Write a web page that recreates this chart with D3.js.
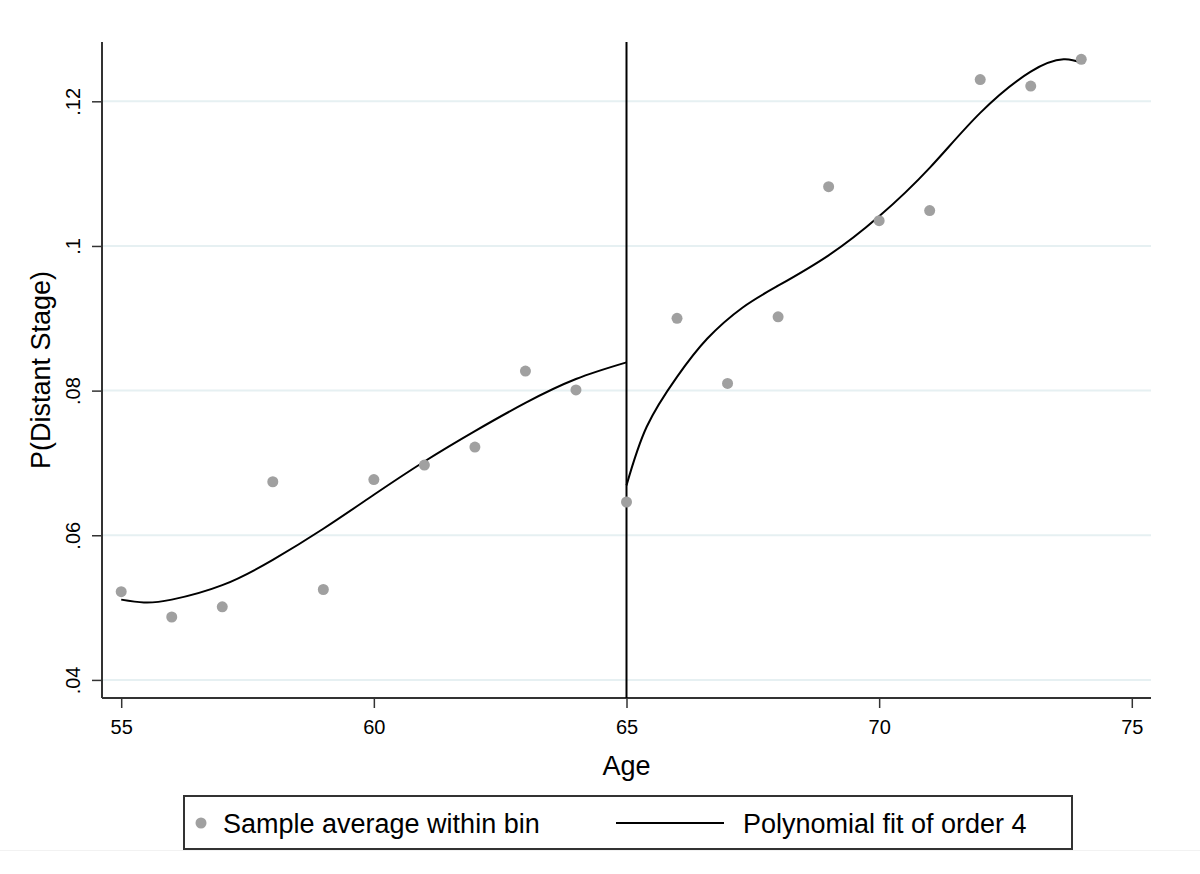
<!DOCTYPE html>
<html>
<head>
<meta charset="utf-8">
<script src="https://cdn.jsdelivr.net/npm/d3@7"></script>
<style>
  body { margin: 0; background: #fff; }
  text { font-family: "Liberation Sans", Arial, sans-serif; fill: #000; }
</style>
</head>
<body>
<div id="chart"></div>
<script>
// bin averages
var ages = [55, 56, 57, 58, 59, 60, 61, 62, 63, 64, 65, 66, 67, 68, 69, 70, 71, 72, 73, 74];
var binMeans = [0.0522, 0.0487, 0.0501, 0.0674, 0.0525, 0.0677, 0.0697, 0.0722, 0.0827, 0.0801,
                0.0646, 0.0900, 0.0810, 0.0902, 0.1082, 0.1035, 0.1049, 0.1230, 0.1221, 0.1258];

// fitted curve (left and right of the cutoff)
var fitLeftX = [55, 55.45, 56, 57, 58, 59, 60, 61, 62, 63, 64, 65];
var fitLeftY = [0.0511, 0.0507, 0.0511, 0.0531, 0.0566, 0.0609, 0.0656, 0.0702, 0.0744, 0.0783, 0.0816, 0.0839];
var fitRightX = [65, 65.4, 66, 66.6, 67.3, 68, 69, 70, 71, 72, 73, 73.65, 74];
var fitRightY = [0.0669, 0.0750, 0.0819, 0.0872, 0.0915, 0.0945, 0.0987, 0.1041, 0.1108, 0.1184, 0.1241, 0.1258, 0.1253];

var cutoff = 65;
var xTicks = [55, 60, 65, 70, 75];
var yTicks = [0.04, 0.06, 0.08, 0.1, 0.12];
var yTickLabels = [".04", ".06", ".08", ".1", ".12"];

var W = 1200, H = 874;
var svg = d3.select("#chart").append("svg")
    .attr("width", W)
    .attr("height", H);

// plot region
var plotLeft = 102, plotRight = 1151, plotTop = 42, plotBottom = 698;

var x = d3.scaleLinear().domain([54.62, 75.38]).range([plotLeft, plotRight]);
var y = d3.scaleLinear().domain([0.0375, 0.1282]).range([plotBottom, plotTop]);

// gridlines
svg.append("g")
    .selectAll("line")
    .data(yTicks)
    .enter().append("line")
    .attr("x1", plotLeft)
    .attr("x2", plotRight)
    .attr("y1", function (d) { return y(d); })
    .attr("y2", function (d) { return y(d); })
    .attr("stroke", "#e6f0f2")
    .attr("stroke-width", 2);

// axes
var xAxis = svg.append("g")
    .attr("transform", "translate(0," + plotBottom + ")")
    .call(d3.axisBottom(x).tickValues(xTicks).tickSize(10).tickPadding(12).tickFormat(d3.format("d")));
xAxis.select(".domain").attr("d", "M" + plotLeft + ",0H" + plotRight).attr("stroke", "#333").attr("stroke-width", 2);
xAxis.selectAll(".tick line").attr("stroke", "#333").attr("stroke-width", 1.5);
xAxis.selectAll(".tick text").style("font-size", "20px").style("font-family", "Liberation Sans, Arial, sans-serif");

var yAxis = svg.append("g")
    .attr("transform", "translate(" + plotLeft + ",0)")
    .call(d3.axisLeft(y).tickValues(yTicks).tickSize(10).tickFormat(function (d, i) { return yTickLabels[i]; }));
yAxis.select(".domain").attr("d", "M0," + plotTop + "V" + plotBottom).attr("stroke", "#333").attr("stroke-width", 2);
yAxis.selectAll(".tick line").attr("stroke", "#333").attr("stroke-width", 1.5);
yAxis.selectAll(".tick text")
    .style("font-size", "20px")
    .style("font-family", "Liberation Sans, Arial, sans-serif")
    .attr("x", null)
    .attr("dy", null)
    .attr("text-anchor", "middle")
    .attr("transform", "translate(-22,0) rotate(-90)");

// axis titles
svg.append("text")
    .attr("x", x(cutoff))
    .attr("y", 775)
    .attr("text-anchor", "middle")
    .style("font-size", "27px")
    .text("Age");

svg.append("text")
    .attr("transform", "translate(50," + ((plotTop + plotBottom) / 2) + ") rotate(-90)")
    .attr("text-anchor", "middle")
    .style("font-size", "27px")
    .text("P(Distant Stage)");

// cutoff line
svg.append("line")
    .attr("x1", x(cutoff))
    .attr("x2", x(cutoff))
    .attr("y1", plotTop)
    .attr("y2", plotBottom)
    .attr("stroke", "#000")
    .attr("stroke-width", 2);

// fitted curves
var line = d3.line()
    .x(function (d) { return x(d[0]); })
    .y(function (d) { return y(d[1]); })
    .curve(d3.curveNatural);

[[fitLeftX, fitLeftY], [fitRightX, fitRightY]].forEach(function (s) {
    var pts = s[0].map(function (v, i) { return [v, s[1][i]]; });
    svg.append("path")
        .datum(pts)
        .attr("d", line)
        .attr("fill", "none")
        .attr("stroke", "#000")
        .attr("stroke-width", 2);
});

// bin points
svg.append("g")
    .selectAll("circle")
    .data(ages)
    .enter().append("circle")
    .attr("cx", function (d) { return x(d); })
    .attr("cy", function (d, i) { return y(binMeans[i]); })
    .attr("r", 5.5)
    .attr("fill", "#a0a0a0");

// faint region border
svg.append("line")
    .attr("x1", 0).attr("x2", W)
    .attr("y1", 850.5).attr("y2", 850.5)
    .attr("stroke", "#f2f2f2")
    .attr("stroke-width", 1);

// legend
var lg = svg.append("g");
lg.append("rect")
    .attr("x", 184).attr("y", 796)
    .attr("width", 888).attr("height", 53)
    .attr("fill", "#fff")
    .attr("stroke", "#333")
    .attr("stroke-width", 2);
lg.append("circle")
    .attr("cx", 201).attr("cy", 823)
    .attr("r", 5.5)
    .attr("fill", "#a0a0a0");
lg.append("text")
    .attr("x", 223).attr("y", 833)
    .style("font-size", "27px")
    .text("Sample average within bin");
lg.append("line")
    .attr("x1", 616).attr("x2", 724)
    .attr("y1", 823).attr("y2", 823)
    .attr("stroke", "#000")
    .attr("stroke-width", 2);
lg.append("text")
    .attr("x", 743).attr("y", 833)
    .style("font-size", "27px")
    .text("Polynomial fit of order 4");
</script>
</body>
</html>
